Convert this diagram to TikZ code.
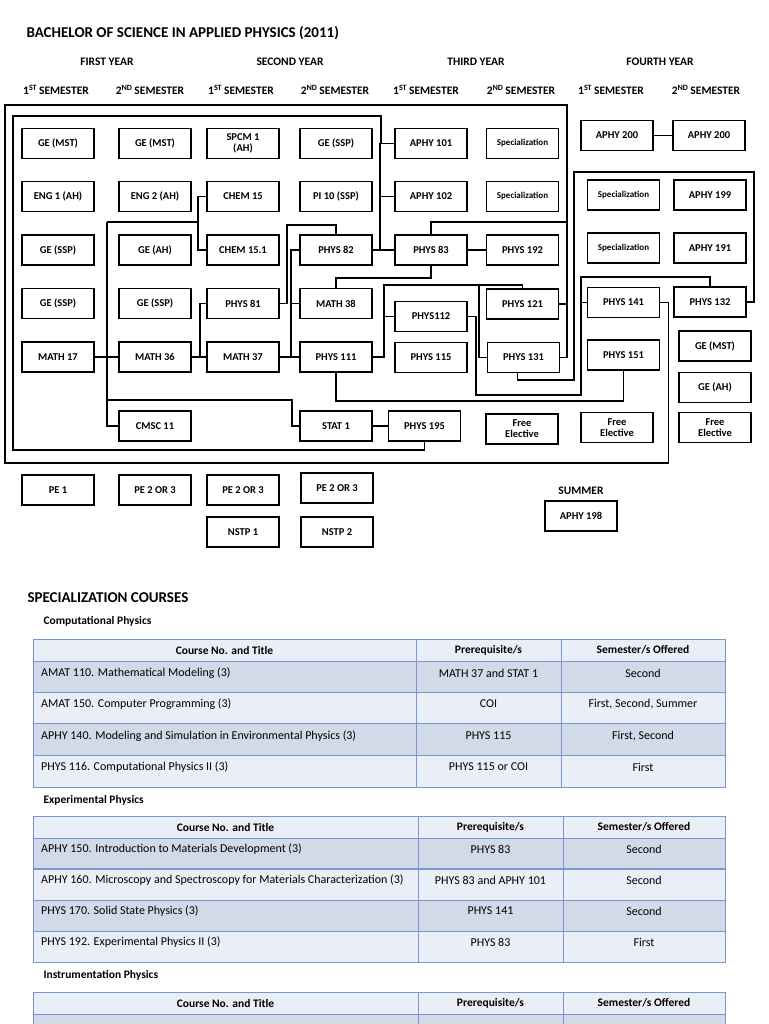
\documentclass[tikz,border=0pt]{standalone}
\usepackage{fontspec}
\setmainfont{Carlito}
\usetikzlibrary{positioning}

\definecolor{rowdark}{RGB}{210,218,233}
\definecolor{rowlight}{RGB}{234,238,246}
\definecolor{tblline}{RGB}{118,152,204}

\newcommand{\crsfont}{\bfseries\fontsize{10.5}{11}\selectfont}
\newcommand{\sem}[1]{#1\,SEMESTER}

\tikzset{
  crs/.style={draw, line width=1.8pt, minimum width=72pt, minimum height=30pt,
    inner sep=0pt, align=center, font=\crsfont},
  spc/.style={crs, font=\bfseries\fontsize{9}{10}\selectfont},
  lnk/.style={line width=1.8pt},
  yr/.style={font=\bfseries\fontsize{11.5}{13}\selectfont},
  cell/.style={inner sep=0pt, font=\fontsize{12}{13}\selectfont},
  cellh/.style={inner sep=0pt, font=\bfseries\fontsize{11.5}{13}\selectfont},
  tline/.style={draw=tblline, line width=1pt}
}

\begin{document}
\begin{tikzpicture}[x=1pt, y=-1pt]
    \useasboundingbox[fill=white] (0,0) rectangle (768,1024);

    % Title and headers
    \node[anchor=west, font=\bfseries\fontsize{15}{17}\selectfont] (title) at (23,33) {BACHELOR OF SCIENCE IN APPLIED PHYSICS (2011)};
    \node[yr] (yrA) at (107,62) {FIRST YEAR};
    \node[yr] (yrB) at (290,62) {SECOND YEAR};
    \node[yr] (yrC) at (476,62) {THIRD YEAR};
    \node[yr] (yrD) at (660,62) {FOURTH YEAR};

    \node[yr] (semA) at (56,90) {\sem{1\textsuperscript{ST}}};
    \node[yr] (semB) at (150,90) {\sem{2\textsuperscript{ND}}};
    \node[yr] (semC) at (241,90) {\sem{1\textsuperscript{ST}}};
    \node[yr] (semD) at (335,90) {\sem{2\textsuperscript{ND}}};
    \node[yr] (semE) at (426,90) {\sem{1\textsuperscript{ST}}};
    \node[yr] (semF) at (521,90) {\sem{2\textsuperscript{ND}}};
    \node[yr] (semG) at (611,90) {\sem{1\textsuperscript{ST}}};
    \node[yr] (semH) at (706,90) {\sem{2\textsuperscript{ND}}};

    % First year
    \node[crs] (gemstA) at (58,143.5) {GE (MST)};
    \node[crs] (engA) at (58,196.5) {ENG 1 (AH)};
    \node[crs] (gesspA) at (58,250) {GE (SSP)};
    \node[crs] (gesspB) at (58,303.5) {GE (SSP)};
    \node[crs] (math17) at (58,357) {MATH 17};

    \node[crs] (gemstB) at (155,143.5) {GE (MST)};
    \node[crs] (engB) at (155,196.5) {ENG 2 (AH)};
    \node[crs] (geahA) at (155,250) {GE (AH)};
    \node[crs] (gesspC) at (155,303.5) {GE (SSP)};
    \node[crs] (math36) at (155,357) {MATH 36};
    \node[crs] (cmsc11) at (155,426) {CMSC 11};

    % Second year
    \node[crs] (spcm) at (243,143.5) {SPCM 1\\(AH)};
    \node[crs] (chem15) at (243,196.5) {CHEM 15};
    \node[crs] (chem151) at (243,250) {CHEM 15.1};
    \node[crs] (phys81) at (243,303.5) {PHYS 81};
    \node[crs] (math37) at (243,357) {MATH 37};

    \node[crs] (gesspD) at (336,143.5) {GE (SSP)};
    \node[crs] (pi10) at (336,196.5) {PI 10 (SSP)};
    \node[crs] (phys82) at (336,250) {PHYS 82};
    \node[crs] (math38) at (336,303.5) {MATH 38};
    \node[crs] (phys111) at (336,357) {PHYS 111};
    \node[crs] (stat1) at (336,426) {STAT 1};

    % Third year
    \node[crs] (aphy101) at (431,143.5) {APHY 101};
    \node[crs] (aphy102) at (431,196.5) {APHY 102};
    \node[crs] (phys83) at (431,250) {PHYS 83};
    \node[crs] (phys112) at (431,316.5) {PHYS112};
    \node[crs] (phys115) at (431,357.5) {PHYS 115};
    \node[crs] (phys195) at (424.5,426) {PHYS 195};

    \node[spc] (specA) at (522.5,143.5) {Specialization};
    \node[spc] (specB) at (522.5,196.5) {Specialization};
    \node[crs] (phys192) at (522.5,250) {PHYS 192};
    \node[crs] (phys121) at (522.5,304) {PHYS 121};
    \node[crs] (phys131) at (523.5,357.5) {PHYS 131};
    \node[crs] (freeA) at (522,429) {Free\\Elective};

    % Fourth year
    \node[crs] (aphy200a) at (617,135.5) {APHY 200};
    \node[spc] (specC) at (623.5,195) {Specialization};
    \node[spc] (specD) at (623.5,248) {Specialization};
    \node[crs] (phys141) at (623.5,302.5) {PHYS 141};
    \node[crs] (phys151) at (623.5,355) {PHYS 151};
    \node[crs] (freeB) at (617,427.5) {Free\\Elective};

    \node[crs] (aphy200b) at (709,135.5) {APHY 200};
    \node[crs] (aphy199) at (710,195) {APHY 199};
    \node[crs] (aphy191) at (710,248) {APHY 191};
    \node[crs] (phys132) at (710,302) {PHYS 132};
    \node[crs] (gemstC) at (715,346) {GE (MST)};
    \node[crs] (geahB) at (715,387.5) {GE (AH)};
    \node[crs] (freeC) at (715,427.5) {Free\\Elective};

    % PE, NSTP and summer
    \node[crs] (peA) at (58,490) {PE 1};
    \node[crs] (peB) at (155,490) {PE 2 OR 3};
    \node[crs] (peC) at (243,490) {PE 2 OR 3};
    \node[crs] (peD) at (337,488) {PE 2 OR 3};
    \node[crs] (nstpA) at (243,532) {NSTP 1};
    \node[crs] (nstpB) at (337,532) {NSTP 2};
    \node[yr] (summer) at (581,491) {SUMMER};
    \node[crs] (aphy198) at (581,516) {APHY 198};

    % Prerequisite lines
    \draw[lnk] (math17) -- (math36);
    \draw[lnk] (107,222) -- (199,222);
    \draw[lnk] (107,222) |- (cmsc11.west);
    \draw[lnk] (107,400) -- (292,400) |- (stat1.west);
    \draw[lnk] (chem15.west) -- ++(-8,0) |- (chem151.west);
    \draw[lnk] (math36) -- (math37);
    \draw[lnk] (math36.east) -- ++(8,0) |- (phys81.west);
    \draw[lnk] (phys81.east) -| (287,225) -| (phys82.north);
    \draw[lnk] (math37) -- (phys111);
    \draw[lnk] (phys111.west) -- ++(-8,0) |- (phys82.west);
    \draw[lnk] (292,303.5) -- (math38.west);
    \draw[lnk] (stat1) -- (phys195);
    \draw[lnk] (phys82) -- (phys83);
    \draw[lnk] (phys83.west) -- ++(-14,0) |- (aphy101.west);
    \draw[lnk] (381,196.5) -- (aphy102.west);
    \draw[lnk] (phys195.south) |- (13,450) |- (381,116) -- (381,143.5);
    \draw[lnk] (phys83) -- (phys192);
    \draw[lnk] (phys83.south) -- ++(0,12) -| (math38.north);

    % outer loop
    \draw[lnk] (phys141.east) -- ++(8,0) |- (5,463) |- (567,105) |- (phys131.east);
    \draw[lnk] (567,222) -| (phys83.north);
    \draw[lnk] (567,304) -- (phys121.east);

    % fourth year loop
    \draw[lnk] (phys132.east) -- ++(7,0) |- (574,172) -- (574,380) -| ([xshift=-6pt]phys131.south);

    \draw[lnk] (phys111.east) -- ++(11,0) |- (phys112.west);
    \draw[lnk] (phys111.east) -- ++(11,0) |- (522.5,285) -- (phys121.north);
    \draw[lnk] (479,285) |- (phys131.west);
    \draw[lnk] (phys111.south) -- ++(0,28) -| (phys151.south);
    \draw[lnk] (phys112.east) -- ++(8,0) |- (581,395) |- (710,277) -- (phys132.north);
    \draw[lnk] (phys141.west) -- ++(-7,0);
    \draw[lnk] (aphy200a) -- (aphy200b);

    % Specialization courses
    \node[anchor=west, font=\bfseries\fontsize{15}{17}\selectfont] (spcttl) at (24,598) {SPECIALIZATION COURSES};
    \node[anchor=west, font=\bfseries\fontsize{11.5}{13}\selectfont] (compttl) at (40,621) {Computational Physics};

    % Table 1
    \fill[rowlight] (33,639) rectangle (725,661);
    \fill[rowdark] (33,661) rectangle (725,692);
    \fill[rowlight] (33,692) rectangle (725,723);
    \fill[rowdark] (33,723) rectangle (725,755);
    \fill[rowlight] (33,755) rectangle (725,787);
    \draw[tline] (33,639) rectangle (725,787);
    \draw[tline] (33,661) -- (725,661) (33,692) -- (725,692) (33,723) -- (725,723) (33,755) -- (725,755);
    \draw[tline] (416,639) -- (416,787) (561,639) -- (561,787);

    \node[cellh] (tAh1) at (224.5,650) {Course No. and Title};
    \node[cellh] (tAh2) at (488.5,650) {Prerequisite/s};
    \node[cellh] (tAh3) at (643,650) {Semester/s Offered};
    \node[cell, anchor=west] (tA1) at (41,673) {AMAT 110. Mathematical Modeling (3)};
    \node[cell] (tA1p) at (488.5,673) {MATH 37 and STAT 1};
    \node[cell] (tA1s) at (643,673) {Second};
    \node[cell, anchor=west] (tA2) at (41,704) {AMAT 150. Computer Programming (3)};
    \node[cell] (tA2p) at (488.5,704) {COI};
    \node[cell] (tA2s) at (643,704) {First, Second, Summer};
    \node[cell, anchor=west] (tA3) at (41,736) {APHY 140. Modeling and Simulation in Environmental Physics (3)};
    \node[cell] (tA3p) at (488.5,736) {PHYS 115};
    \node[cell] (tA3s) at (643,736) {First, Second};
    \node[cell, anchor=west] (tA4) at (41,767) {PHYS 116. Computational Physics II (3)};
    \node[cell] (tA4p) at (488.5,767) {PHYS 115 or COI};
    \node[cell] (tA4s) at (643,767) {First};

    % Table 2
    \node[anchor=west, font=\bfseries\fontsize{11.5}{13}\selectfont] (expttl) at (40,800) {Experimental Physics};
    \fill[rowlight] (33,816) rectangle (725,838);
    \fill[rowdark] (33,838) rectangle (725,869);
    \fill[rowlight] (33,869) rectangle (725,900);
    \fill[rowdark] (33,900) rectangle (725,931);
    \fill[rowlight] (33,931) rectangle (725,962);
    \draw[tline] (33,816) rectangle (725,962);
    \draw[tline] (33,838) -- (725,838) (33,900) -- (725,900) (33,931) -- (725,931);
    \draw[tline, line width=1.8pt] (33,869) -- (725,869);
    \draw[tline] (418,816) -- (418,962) (563,816) -- (563,962);

    \node[cellh] (tBh1) at (225.5,827) {Course No. and Title};
    \node[cellh] (tBh2) at (490.5,827) {Prerequisite/s};
    \node[cellh] (tBh3) at (644,827) {Semester/s Offered};
    \node[cell, anchor=west] (tB1) at (41,849) {APHY 150. Introduction to Materials Development (3)};
    \node[cell] (tB1p) at (490.5,849) {PHYS 83};
    \node[cell] (tB1s) at (644,849) {Second};
    \node[cell, anchor=west] (tB2) at (41,880) {APHY 160. Microscopy and Spectroscopy for Materials Characterization (3)};
    \node[cell] (tB2p) at (490.5,880) {PHYS 83 and APHY 101};
    \node[cell] (tB2s) at (644,880) {Second};
    \node[cell, anchor=west] (tB3) at (41,911) {PHYS 170. Solid State Physics (3)};
    \node[cell] (tB3p) at (490.5,911) {PHYS 141};
    \node[cell] (tB3s) at (644,911) {Second};
    \node[cell, anchor=west] (tB4) at (41,942) {PHYS 192. Experimental Physics II (3)};
    \node[cell] (tB4p) at (490.5,942) {PHYS 83};
    \node[cell] (tB4s) at (644,942) {First};

    % Table 3
    \node[anchor=west, font=\bfseries\fontsize{11.5}{13}\selectfont] (insttl) at (40,975) {Instrumentation Physics};
    \fill[rowlight] (33,992) rectangle (725,1014);
    \fill[rowdark] (33,1014) rectangle (725,1024);
    \draw[tline] (33,1024) -- (33,992) -- (725,992) -- (725,1024);
    \draw[tline] (33,1014) -- (725,1014);
    \draw[tline] (418,992) -- (418,1024) (563,992) -- (563,1024);
    \node[cellh] (tCh1) at (225.5,1003) {Course No. and Title};
    \node[cellh] (tCh2) at (490.5,1003) {Prerequisite/s};
    \node[cellh] (tCh3) at (644,1003) {Semester/s Offered};
\end{tikzpicture}
\end{document}
